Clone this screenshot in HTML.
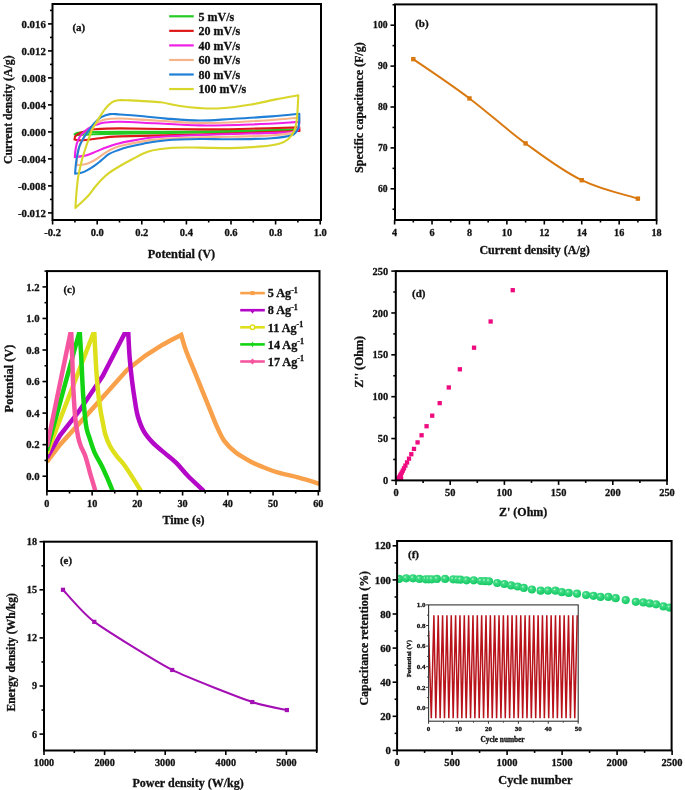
<!DOCTYPE html>
<html><head><meta charset="utf-8"><style>
html,body{margin:0;padding:0;background:#fff;}
svg{display:block;}
</style></head><body>
<svg width="685" height="790" viewBox="0 0 685 790" font-family="'Liberation Serif', 'Times New Roman', serif" fill="#111"><style>text{stroke:#111;stroke-width:0.3px;}</style>
<rect width="685" height="790" fill="#fff"/>
<g fill="none" stroke-width="2.1" stroke-linejoin="round" stroke-linecap="round">
<path d="M74.6,134.4 C75.17,134.13 75.43,133.2 78,132.8 C80.57,132.4 83,132.18 90,132 C97,131.82 101.67,131.78 120,131.7 C138.33,131.62 170.62,131.85 200,131.5 C229.38,131.15 280.25,129.92 296.3,129.6 L296.3,130.6 L296.3,130.6 C280.25,130.92 229.38,132 200,132.5 C170.62,133 138.33,133.28 120,133.6 C101.67,133.92 97,134.17 90,134.4 C83,134.63 80.57,135 78,135 C75.43,135 75.17,134.5 74.6,134.4" stroke="#22cc22"/>
<path d="M74.5,139.5 C74.67,138.92 74.58,137.08 75.5,136 C76.42,134.92 78.25,133.85 80,133 C81.75,132.15 83.62,131.52 86,130.9 C88.38,130.28 88.63,129.72 94.3,129.3 C99.97,128.88 102.38,128.38 120,128.4 C137.62,128.42 178.33,129.35 200,129.4 C221.67,129.45 233.45,129.03 250,128.7 C266.55,128.37 291.08,127.62 299.3,127.4 L299.5,131 L299.5,131 C291.25,131.3 266.58,132.22 250,132.8 C233.42,133.38 221.67,133.9 200,134.5 C178.33,135.1 136.67,135.78 120,136.4 C103.33,137.02 105,137.68 100,138.2 C95,138.72 93.33,139.13 90,139.5 C86.67,139.87 82.58,140.4 80,140.4 C77.42,140.4 75.42,139.65 74.5,139.5" stroke="#dd1818"/>
<path d="M74.8,157.1 C74.92,155.92 75.13,152.35 75.5,150 C75.87,147.65 76.25,145.25 77,143 C77.75,140.75 78.67,138.5 80,136.5 C81.33,134.5 83.17,132.58 85,131 C86.83,129.42 89.02,128.08 91,127 C92.98,125.92 94.57,125.25 96.9,124.5 C99.23,123.75 101.15,122.95 105,122.5 C108.85,122.05 111.67,121.67 120,121.8 C128.33,121.93 141.67,122.7 155,123.3 C168.33,123.9 184.17,125.2 200,125.4 C215.83,125.6 233.45,125.08 250,124.5 C266.55,123.92 291.08,122.33 299.3,121.9 L298.8,128 L298.8,128 C297.7,128.68 300.33,131.18 292.2,132.1 C284.07,133.02 265.37,133.02 250,133.5 C234.63,133.98 215.83,134.37 200,135 C184.17,135.63 167,136.23 155,137.3 C143,138.37 134.27,140.32 128,141.4 C121.73,142.48 121.07,142.77 117.4,143.8 C113.73,144.83 109.48,146.33 106,147.6 C102.52,148.87 99.67,150.13 96.5,151.4 C93.33,152.67 90.02,154.33 87,155.2 C83.98,156.07 80.43,156.28 78.4,156.6 C76.37,156.92 75.4,157.02 74.8,157.1" stroke="#ee1fe6"/>
<path d="M76.5,165.2 C76.63,163.83 76.88,159.87 77.3,157 C77.72,154.13 78.05,151.08 79,148 C79.95,144.92 81.33,141.5 83,138.5 C84.67,135.5 86.83,132.5 89,130 C91.17,127.5 93.37,125.25 96,123.5 C98.63,121.75 100.8,120.33 104.8,119.5 C108.8,118.67 111.63,118.33 120,118.5 C128.37,118.67 141.67,119.75 155,120.5 C168.33,121.25 185.83,122.75 200,123 C214.17,123.25 223.45,122.87 240,122 C256.55,121.13 289.42,118.5 299.3,117.8 L299,126 L299,126 C298,127.08 297.83,130.92 293,132.5 C288.17,134.08 280.5,134.78 270,135.5 C259.5,136.22 241.67,136.5 230,136.8 C218.33,137.1 212.5,136.83 200,137.3 C187.5,137.77 167,138.43 155,139.6 C143,140.77 134.58,142.97 128,144.3 C121.42,145.63 119.17,146.27 115.5,147.6 C111.83,148.93 109.17,150.4 106,152.3 C102.83,154.2 99.67,157.1 96.5,159 C93.33,160.9 90.33,162.67 87,163.7 C83.67,164.73 78.25,164.95 76.5,165.2" stroke="#f5b48a"/>
<path d="M75.1,173.7 C75.25,171.92 75.6,166.28 76,163 C76.4,159.72 76.92,156.83 77.5,154 C78.08,151.17 78.58,148.5 79.5,146 C80.42,143.5 81.57,141.47 83,139 C84.43,136.53 86.22,133.82 88.1,131.2 C89.98,128.58 92.1,125.63 94.3,123.3 C96.5,120.97 98.68,118.73 101.3,117.2 C103.92,115.67 106.88,114.55 110,114.1 C113.12,113.65 114.43,114.13 120,114.5 C125.57,114.87 135.62,115.62 143.4,116.3 C151.18,116.98 157.27,117.9 166.7,118.6 C176.13,119.3 189.3,120.43 200,120.5 C210.7,120.57 218.95,119.68 230.9,119 C242.85,118.32 260.3,117.28 271.7,116.4 C283.1,115.52 294.7,114.15 299.3,113.7 L299.3,121 L298.5,128 L298.5,128 C297.45,129.17 296.67,133.3 292.2,135 C287.73,136.7 281.92,137.48 271.7,138.2 C261.48,138.92 242.85,139.17 230.9,139.3 C218.95,139.43 210.7,138.85 200,139 C189.3,139.15 176.13,139.42 166.7,140.2 C157.27,140.98 149.85,142.55 143.4,143.7 C136.95,144.85 132.33,145.98 128,147.1 C123.67,148.22 120.6,149.22 117.4,150.4 C114.2,151.58 111.5,152.53 108.8,154.2 C106.1,155.87 103.57,158.5 101.2,160.4 C98.83,162.3 96.97,163.93 94.6,165.6 C92.23,167.27 89.22,169.2 87,170.4 C84.78,171.6 83.28,172.25 81.3,172.8 C79.32,173.35 76.13,173.55 75.1,173.7" stroke="#1f7fd6"/>
<path d="M75.4,207.9 C75.58,205.28 76.07,197.18 76.5,192.2 C76.93,187.22 77.43,181.95 78,178 C78.57,174.05 79.2,171.67 79.9,168.5 C80.6,165.33 81.33,162.17 82.2,159 C83.07,155.83 84.07,152.67 85.1,149.5 C86.13,146.33 87.25,143.25 88.4,140 C89.55,136.75 90.58,133.08 92,130 C93.42,126.92 94.77,124.95 96.9,121.5 C99.03,118.05 102.32,112.5 104.8,109.3 C107.28,106.1 109.6,103.82 111.8,102.3 C114,100.78 114.97,100.52 118,100.2 C121.03,99.88 125.77,100.25 130,100.4 C134.23,100.55 138.25,100.78 143.4,101.1 C148.55,101.42 155.07,101.52 160.9,102.3 C166.73,103.08 171.88,104.83 178.4,105.8 C184.92,106.77 192.95,107.68 200,108.1 C207.05,108.52 212.15,108.9 220.7,108.3 C229.25,107.7 242.12,105.98 251.3,104.5 C260.48,103.02 267.97,100.93 275.8,99.4 C283.63,97.87 294.55,95.98 298.3,95.3 L297.6,110 L296.5,122 L296.5,122 C296.12,123.52 295.6,128.22 294.2,131.1 C292.8,133.98 290.48,137.25 288.1,139.3 C285.72,141.35 284.33,142.22 279.9,143.4 C275.47,144.58 269.67,145.62 261.5,146.4 C253.33,147.18 241.15,147.9 230.9,148.1 C220.65,148.3 209.72,147.65 200,147.6 C190.28,147.55 181.07,147.18 172.6,147.8 C164.13,148.42 156.02,149.35 149.2,151.3 C142.38,153.25 137,156.8 131.7,159.5 C126.4,162.2 121.22,165.22 117.4,167.5 C113.58,169.78 111.5,171.13 108.8,173.2 C106.1,175.27 103.57,177.52 101.2,179.9 C98.83,182.28 96.65,184.98 94.6,187.5 C92.55,190.02 90.97,192.63 88.9,195 C86.83,197.37 84.45,199.55 82.2,201.7 C79.95,203.85 76.53,206.87 75.4,207.9" stroke="#d8d62a"/>
</g>
<rect x="52.5" y="4" width="268.5" height="216" fill="none" stroke="#000" stroke-width="2"/>
<line x1="52.5" y1="199.4" x2="50" y2="199.4" stroke="#000" stroke-width="1.6"/>
<line x1="52.5" y1="172.4" x2="50" y2="172.4" stroke="#000" stroke-width="1.6"/>
<line x1="52.5" y1="145.4" x2="50" y2="145.4" stroke="#000" stroke-width="1.6"/>
<line x1="52.5" y1="118.4" x2="50" y2="118.4" stroke="#000" stroke-width="1.6"/>
<line x1="52.5" y1="91.4" x2="50" y2="91.4" stroke="#000" stroke-width="1.6"/>
<line x1="52.5" y1="64.4" x2="50" y2="64.4" stroke="#000" stroke-width="1.6"/>
<line x1="52.5" y1="37.4" x2="50" y2="37.4" stroke="#000" stroke-width="1.6"/>
<line x1="52.5" y1="10.4" x2="50" y2="10.4" stroke="#000" stroke-width="1.6"/>
<line x1="52.5" y1="212.9" x2="48" y2="212.9" stroke="#000" stroke-width="1.6"/>
<line x1="52.5" y1="185.9" x2="48" y2="185.9" stroke="#000" stroke-width="1.6"/>
<line x1="52.5" y1="158.9" x2="48" y2="158.9" stroke="#000" stroke-width="1.6"/>
<line x1="52.5" y1="131.9" x2="48" y2="131.9" stroke="#000" stroke-width="1.6"/>
<line x1="52.5" y1="104.9" x2="48" y2="104.9" stroke="#000" stroke-width="1.6"/>
<line x1="52.5" y1="77.9" x2="48" y2="77.9" stroke="#000" stroke-width="1.6"/>
<line x1="52.5" y1="50.9" x2="48" y2="50.9" stroke="#000" stroke-width="1.6"/>
<line x1="52.5" y1="23.9" x2="48" y2="23.9" stroke="#000" stroke-width="1.6"/>
<text x="45.8" y="216.57" font-size="10.8" text-anchor="end" font-weight="bold">-0.012</text>
<text x="45.8" y="189.57" font-size="10.8" text-anchor="end" font-weight="bold">-0.008</text>
<text x="45.8" y="162.57" font-size="10.8" text-anchor="end" font-weight="bold">-0.004</text>
<text x="45.8" y="135.57" font-size="10.8" text-anchor="end" font-weight="bold">0.000</text>
<text x="45.8" y="108.57" font-size="10.8" text-anchor="end" font-weight="bold">0.004</text>
<text x="45.8" y="81.57" font-size="10.8" text-anchor="end" font-weight="bold">0.008</text>
<text x="45.8" y="54.57" font-size="10.8" text-anchor="end" font-weight="bold">0.012</text>
<text x="45.8" y="27.57" font-size="10.8" text-anchor="end" font-weight="bold">0.016</text>
<line x1="74.9" y1="220" x2="74.9" y2="222.5" stroke="#000" stroke-width="1.6"/>
<line x1="119.5" y1="220" x2="119.5" y2="222.5" stroke="#000" stroke-width="1.6"/>
<line x1="164.1" y1="220" x2="164.1" y2="222.5" stroke="#000" stroke-width="1.6"/>
<line x1="208.7" y1="220" x2="208.7" y2="222.5" stroke="#000" stroke-width="1.6"/>
<line x1="253.3" y1="220" x2="253.3" y2="222.5" stroke="#000" stroke-width="1.6"/>
<line x1="297.9" y1="220" x2="297.9" y2="222.5" stroke="#000" stroke-width="1.6"/>
<line x1="52.6" y1="220" x2="52.6" y2="224.5" stroke="#000" stroke-width="1.6"/>
<line x1="97.2" y1="220" x2="97.2" y2="224.5" stroke="#000" stroke-width="1.6"/>
<line x1="141.8" y1="220" x2="141.8" y2="224.5" stroke="#000" stroke-width="1.6"/>
<line x1="186.4" y1="220" x2="186.4" y2="224.5" stroke="#000" stroke-width="1.6"/>
<line x1="231" y1="220" x2="231" y2="224.5" stroke="#000" stroke-width="1.6"/>
<line x1="275.6" y1="220" x2="275.6" y2="224.5" stroke="#000" stroke-width="1.6"/>
<line x1="320.2" y1="220" x2="320.2" y2="224.5" stroke="#000" stroke-width="1.6"/>
<text x="52.6" y="236" font-size="10.5" text-anchor="middle" font-weight="bold">-0.2</text>
<text x="97.2" y="236" font-size="10.5" text-anchor="middle" font-weight="bold">0.0</text>
<text x="141.8" y="236" font-size="10.5" text-anchor="middle" font-weight="bold">0.2</text>
<text x="186.4" y="236" font-size="10.5" text-anchor="middle" font-weight="bold">0.4</text>
<text x="231" y="236" font-size="10.5" text-anchor="middle" font-weight="bold">0.6</text>
<text x="275.6" y="236" font-size="10.5" text-anchor="middle" font-weight="bold">0.8</text>
<text x="320.2" y="236" font-size="10.5" text-anchor="middle" font-weight="bold">1.0</text>
<text x="7.8" y="109.7" font-size="11.8" text-anchor="middle" font-weight="bold" transform="rotate(-90 7.8 109.7)" dy="4">Current density (A/g)</text>
<text x="181.5" y="257.6" font-size="12.3" text-anchor="middle" font-weight="bold">Potential (V)</text>
<text x="78.8" y="30.6" font-size="11" text-anchor="middle" font-weight="bold">(a)</text>
<line x1="169.2" y1="16.3" x2="193.7" y2="16.3" stroke="#22cc22" stroke-width="2.2"/>
<text x="198.5" y="20.5" font-size="12" text-anchor="start" font-weight="bold">5 mV/s</text>
<line x1="169.2" y1="30.85" x2="193.7" y2="30.85" stroke="#dd1818" stroke-width="2.2"/>
<text x="198.5" y="35.05" font-size="12" text-anchor="start" font-weight="bold">20 mV/s</text>
<line x1="169.2" y1="45.4" x2="193.7" y2="45.4" stroke="#ee1fe6" stroke-width="2.2"/>
<text x="198.5" y="49.6" font-size="12" text-anchor="start" font-weight="bold">40 mV/s</text>
<line x1="169.2" y1="59.95" x2="193.7" y2="59.95" stroke="#f5b48a" stroke-width="2.2"/>
<text x="198.5" y="64.15" font-size="12" text-anchor="start" font-weight="bold">60 mV/s</text>
<line x1="169.2" y1="74.5" x2="193.7" y2="74.5" stroke="#1f7fd6" stroke-width="2.2"/>
<text x="198.5" y="78.7" font-size="12" text-anchor="start" font-weight="bold">80 mV/s</text>
<line x1="169.2" y1="89.05" x2="193.7" y2="89.05" stroke="#d8d62a" stroke-width="2.2"/>
<text x="198.5" y="93.25" font-size="12" text-anchor="start" font-weight="bold">100 mV/s</text>
<path d="M413.31,59.15 C423.61,66.35 448.87,82.96 469.46,98.41 C490.04,113.86 505.01,128.4 525.6,143.4 C546.19,158.4 561.16,170.09 581.74,180.21 C602.33,190.33 627.59,195.24 637.89,198.62" fill="none" stroke="#d9780f" stroke-width="1.9"/>
<rect x="411.11" y="56.95" width="4.4" height="4.4" fill="#d9780f"/>
<rect x="467.26" y="96.21" width="4.4" height="4.4" fill="#d9780f"/>
<rect x="523.4" y="141.2" width="4.4" height="4.4" fill="#d9780f"/>
<rect x="579.54" y="178.01" width="4.4" height="4.4" fill="#d9780f"/>
<rect x="635.69" y="196.42" width="4.4" height="4.4" fill="#d9780f"/>
<rect x="395" y="4.4" width="261.5" height="215.6" fill="none" stroke="#000" stroke-width="2"/>
<line x1="395" y1="209.25" x2="392.5" y2="209.25" stroke="#000" stroke-width="1.6"/>
<line x1="395" y1="168.35" x2="392.5" y2="168.35" stroke="#000" stroke-width="1.6"/>
<line x1="395" y1="127.45" x2="392.5" y2="127.45" stroke="#000" stroke-width="1.6"/>
<line x1="395" y1="86.55" x2="392.5" y2="86.55" stroke="#000" stroke-width="1.6"/>
<line x1="395" y1="45.65" x2="392.5" y2="45.65" stroke="#000" stroke-width="1.6"/>
<line x1="395" y1="4.75" x2="392.5" y2="4.75" stroke="#000" stroke-width="1.6"/>
<line x1="395" y1="188.8" x2="390.5" y2="188.8" stroke="#000" stroke-width="1.6"/>
<line x1="395" y1="147.9" x2="390.5" y2="147.9" stroke="#000" stroke-width="1.6"/>
<line x1="395" y1="107" x2="390.5" y2="107" stroke="#000" stroke-width="1.6"/>
<line x1="395" y1="66.1" x2="390.5" y2="66.1" stroke="#000" stroke-width="1.6"/>
<line x1="395" y1="25.2" x2="390.5" y2="25.2" stroke="#000" stroke-width="1.6"/>
<text x="387.5" y="192.06" font-size="9.6" text-anchor="end" font-weight="bold">60</text>
<text x="387.5" y="151.16" font-size="9.6" text-anchor="end" font-weight="bold">70</text>
<text x="387.5" y="110.26" font-size="9.6" text-anchor="end" font-weight="bold">80</text>
<text x="387.5" y="69.36" font-size="9.6" text-anchor="end" font-weight="bold">90</text>
<text x="387.5" y="28.46" font-size="9.6" text-anchor="end" font-weight="bold">100</text>
<line x1="413.31" y1="220" x2="413.31" y2="222.5" stroke="#000" stroke-width="1.6"/>
<line x1="450.74" y1="220" x2="450.74" y2="222.5" stroke="#000" stroke-width="1.6"/>
<line x1="488.17" y1="220" x2="488.17" y2="222.5" stroke="#000" stroke-width="1.6"/>
<line x1="525.6" y1="220" x2="525.6" y2="222.5" stroke="#000" stroke-width="1.6"/>
<line x1="563.03" y1="220" x2="563.03" y2="222.5" stroke="#000" stroke-width="1.6"/>
<line x1="600.46" y1="220" x2="600.46" y2="222.5" stroke="#000" stroke-width="1.6"/>
<line x1="637.89" y1="220" x2="637.89" y2="222.5" stroke="#000" stroke-width="1.6"/>
<line x1="394.6" y1="220" x2="394.6" y2="224.5" stroke="#000" stroke-width="1.6"/>
<line x1="432.03" y1="220" x2="432.03" y2="224.5" stroke="#000" stroke-width="1.6"/>
<line x1="469.46" y1="220" x2="469.46" y2="224.5" stroke="#000" stroke-width="1.6"/>
<line x1="506.89" y1="220" x2="506.89" y2="224.5" stroke="#000" stroke-width="1.6"/>
<line x1="544.31" y1="220" x2="544.31" y2="224.5" stroke="#000" stroke-width="1.6"/>
<line x1="581.74" y1="220" x2="581.74" y2="224.5" stroke="#000" stroke-width="1.6"/>
<line x1="619.17" y1="220" x2="619.17" y2="224.5" stroke="#000" stroke-width="1.6"/>
<line x1="656.6" y1="220" x2="656.6" y2="224.5" stroke="#000" stroke-width="1.6"/>
<text x="394.6" y="236" font-size="10.2" text-anchor="middle" font-weight="bold">4</text>
<text x="432.03" y="236" font-size="10.2" text-anchor="middle" font-weight="bold">6</text>
<text x="469.46" y="236" font-size="10.2" text-anchor="middle" font-weight="bold">8</text>
<text x="506.89" y="236" font-size="10.2" text-anchor="middle" font-weight="bold">10</text>
<text x="544.31" y="236" font-size="10.2" text-anchor="middle" font-weight="bold">12</text>
<text x="581.74" y="236" font-size="10.2" text-anchor="middle" font-weight="bold">14</text>
<text x="619.17" y="236" font-size="10.2" text-anchor="middle" font-weight="bold">16</text>
<text x="656.6" y="236" font-size="10.2" text-anchor="middle" font-weight="bold">18</text>
<text x="359.3" y="107.6" font-size="12" text-anchor="middle" font-weight="bold" transform="rotate(-90 359.3 107.6)" dy="4">Specific capacitance (F/g)</text>
<text x="534.6" y="254" font-size="12" text-anchor="middle" font-weight="bold">Current density (A/g)</text>
<text x="421.9" y="27.3" font-size="11" text-anchor="middle" font-weight="bold">(b)</text>
<svg x="0" y="0" width="685" height="790" overflow="hidden"><defs><clipPath id="cc"><rect x="47" y="271" width="272.5" height="220.0"/></clipPath></defs>
<g fill="none" stroke-width="4.5" stroke-linejoin="miter" stroke-miterlimit="3" clip-path="url(#cc)">
<path d="M46.9,462 L60.02,444.65 L88.97,412.63 L126.96,370.03 L133.3,364.99 L145.51,355.52 L162.25,344.95 L170.84,340.22 L181.24,335.01 L181.24,335.01 C182,337.51 183.73,344.35 185.77,350 C187.8,355.65 190.89,362.62 193.46,368.93 C196.02,375.24 198.58,381.55 201.15,387.86 C203.71,394.17 206.27,400.48 208.84,406.79 C211.4,413.1 213.96,420.04 216.53,425.72 C219.09,431.4 221.05,436.45 224.21,440.86 C227.38,445.28 231.08,448.75 235.52,452.22 C239.97,455.69 246.61,459.32 250.9,461.69 C255.2,464.05 256.86,464.63 261.31,466.42 C265.75,468.21 271.33,470.55 277.59,472.41 C283.85,474.28 291.61,475.65 298.85,477.62 C306.09,479.59 317.32,483.14 321.01,484.25" stroke="#f9a04a"/>
<path d="M46.9,457.74 L60.02,435.34 L78.83,411.52 L102.67,376.03 L124.25,334.22 L128.32,334.22 L128.32,334.22 C128.55,338.17 129.07,350.26 129.68,357.89 C130.28,365.51 131.03,372.61 131.94,379.97 C132.84,387.33 134.12,396.01 135.11,402.06 C136.09,408.1 136.39,411.42 137.82,416.25 C139.25,421.09 141.21,426.69 143.7,431.08 C146.19,435.47 149.28,438.97 152.75,442.6 C156.21,446.23 160.59,449.46 164.51,452.85 C168.43,456.24 172.35,459.08 176.27,462.95 C180.19,466.81 183.66,471.55 188.03,476.04 C192.4,480.54 199.71,487.01 202.5,489.92 C205.29,492.84 204.39,492.95 204.76,493.55" stroke="#b407c8"/>
<path d="M46.9,453.48 L93.04,334.22 L94.4,334.22 L94.4,334.22 C94.58,337.91 95.15,349.47 95.53,356.31 C95.9,363.15 96.2,369.06 96.66,375.24 C97.11,381.42 97.58,387.44 98.24,393.38 C98.9,399.32 99.88,406.29 100.59,410.89 C101.31,415.49 101.76,417.1 102.54,420.99 C103.31,424.88 103.97,429.98 105.25,434.24 C106.53,438.5 108.3,442.89 110.23,446.54 C112.15,450.2 114.6,453.3 116.79,456.17 C118.97,459.03 120.97,460.58 123.34,463.74 C125.72,466.89 128.17,470.65 131.03,475.1 C133.9,479.54 138.72,487.32 140.53,490.4 C142.34,493.47 141.66,493.03 141.89,493.55" stroke="#dfe01c"/>
<path d="M46.9,450.49 L78.79,334.22 L79.92,334.22 L79.92,334.22 C80.15,338.17 80.86,350 81.28,357.89 C81.69,365.77 82.07,374.98 82.41,381.55 C82.75,388.12 82.86,391.28 83.31,397.32 C83.77,403.37 84.56,412.57 85.12,417.83 C85.69,423.09 85.91,425.35 86.71,428.88 C87.5,432.4 88.51,434.92 89.87,438.97 C91.23,443.02 92.74,448.41 94.85,453.17 C96.96,457.93 99.67,461.5 102.54,467.52 C105.4,473.54 110.3,484.96 112.04,489.29 C113.77,493.63 112.79,492.84 112.94,493.55" stroke="#12d412"/>
<path d="M46.9,446.86 L70.2,334.22 L71.33,334.22 L71.33,334.22 C71.48,338.04 71.89,347.9 72.23,357.1 C72.57,366.3 72.83,379.05 73.36,389.44 C73.89,399.82 74.61,411.52 75.4,419.41 C76.19,427.3 77.21,432.29 78.11,436.76 C79.02,441.23 79.62,442.99 80.83,446.23 C82.03,449.46 83.84,451.83 85.35,456.17 C86.86,460.5 88.29,466.73 89.87,472.26 C91.45,477.78 93.87,485.74 94.85,489.29 C95.83,492.84 95.6,492.84 95.75,493.55" stroke="#f5569f"/>
</g></svg>
<rect x="47" y="271.1" width="272.5" height="219.9" fill="none" stroke="#000" stroke-width="2"/>
<line x1="47" y1="460.42" x2="44.5" y2="460.42" stroke="#000" stroke-width="1.6"/>
<line x1="47" y1="428.88" x2="44.5" y2="428.88" stroke="#000" stroke-width="1.6"/>
<line x1="47" y1="397.32" x2="44.5" y2="397.32" stroke="#000" stroke-width="1.6"/>
<line x1="47" y1="365.77" x2="44.5" y2="365.77" stroke="#000" stroke-width="1.6"/>
<line x1="47" y1="334.22" x2="44.5" y2="334.22" stroke="#000" stroke-width="1.6"/>
<line x1="47" y1="302.67" x2="44.5" y2="302.67" stroke="#000" stroke-width="1.6"/>
<line x1="47" y1="271.12" x2="44.5" y2="271.12" stroke="#000" stroke-width="1.6"/>
<line x1="47" y1="476.2" x2="42.5" y2="476.2" stroke="#000" stroke-width="1.6"/>
<line x1="47" y1="444.65" x2="42.5" y2="444.65" stroke="#000" stroke-width="1.6"/>
<line x1="47" y1="413.1" x2="42.5" y2="413.1" stroke="#000" stroke-width="1.6"/>
<line x1="47" y1="381.55" x2="42.5" y2="381.55" stroke="#000" stroke-width="1.6"/>
<line x1="47" y1="350" x2="42.5" y2="350" stroke="#000" stroke-width="1.6"/>
<line x1="47" y1="318.45" x2="42.5" y2="318.45" stroke="#000" stroke-width="1.6"/>
<line x1="47" y1="286.9" x2="42.5" y2="286.9" stroke="#000" stroke-width="1.6"/>
<text x="39.6" y="479.84" font-size="10.7" text-anchor="end" font-weight="bold">0.0</text>
<text x="39.6" y="448.29" font-size="10.7" text-anchor="end" font-weight="bold">0.2</text>
<text x="39.6" y="416.74" font-size="10.7" text-anchor="end" font-weight="bold">0.4</text>
<text x="39.6" y="385.19" font-size="10.7" text-anchor="end" font-weight="bold">0.6</text>
<text x="39.6" y="353.64" font-size="10.7" text-anchor="end" font-weight="bold">0.8</text>
<text x="39.6" y="322.09" font-size="10.7" text-anchor="end" font-weight="bold">1.0</text>
<text x="39.6" y="290.54" font-size="10.7" text-anchor="end" font-weight="bold">1.2</text>
<line x1="69.52" y1="491" x2="69.52" y2="493.5" stroke="#000" stroke-width="1.6"/>
<line x1="114.75" y1="491" x2="114.75" y2="493.5" stroke="#000" stroke-width="1.6"/>
<line x1="159.98" y1="491" x2="159.98" y2="493.5" stroke="#000" stroke-width="1.6"/>
<line x1="205.22" y1="491" x2="205.22" y2="493.5" stroke="#000" stroke-width="1.6"/>
<line x1="250.45" y1="491" x2="250.45" y2="493.5" stroke="#000" stroke-width="1.6"/>
<line x1="295.68" y1="491" x2="295.68" y2="493.5" stroke="#000" stroke-width="1.6"/>
<line x1="46.9" y1="491" x2="46.9" y2="495.5" stroke="#000" stroke-width="1.6"/>
<line x1="92.13" y1="491" x2="92.13" y2="495.5" stroke="#000" stroke-width="1.6"/>
<line x1="137.37" y1="491" x2="137.37" y2="495.5" stroke="#000" stroke-width="1.6"/>
<line x1="182.6" y1="491" x2="182.6" y2="495.5" stroke="#000" stroke-width="1.6"/>
<line x1="227.83" y1="491" x2="227.83" y2="495.5" stroke="#000" stroke-width="1.6"/>
<line x1="273.07" y1="491" x2="273.07" y2="495.5" stroke="#000" stroke-width="1.6"/>
<line x1="318.3" y1="491" x2="318.3" y2="495.5" stroke="#000" stroke-width="1.6"/>
<text x="46.9" y="507" font-size="10.2" text-anchor="middle" font-weight="bold">0</text>
<text x="92.13" y="507" font-size="10.2" text-anchor="middle" font-weight="bold">10</text>
<text x="137.37" y="507" font-size="10.2" text-anchor="middle" font-weight="bold">20</text>
<text x="182.6" y="507" font-size="10.2" text-anchor="middle" font-weight="bold">30</text>
<text x="227.83" y="507" font-size="10.2" text-anchor="middle" font-weight="bold">40</text>
<text x="273.07" y="507" font-size="10.2" text-anchor="middle" font-weight="bold">50</text>
<text x="318.3" y="507" font-size="10.2" text-anchor="middle" font-weight="bold">60</text>
<text x="9.4" y="378.5" font-size="12.4" text-anchor="middle" font-weight="bold" transform="rotate(-90 9.4 378.5)" dy="4">Potential (V)</text>
<text x="183.5" y="524" font-size="12" text-anchor="middle" font-weight="bold">Time (s)</text>
<text x="69.4" y="292.7" font-size="10.8" text-anchor="middle" font-weight="bold">(c)</text>
<line x1="240.2" y1="293.1" x2="264.8" y2="293.1" stroke="#f9a04a" stroke-width="2.6"/>
<rect x="250.5" y="291.1" width="4" height="4" fill="#f9a04a"/>
<text x="267.8" y="297.3" font-size="12.2" font-weight="bold">5 Ag<tspan font-size="8" dy="-4.6">-1</tspan></text>
<line x1="240.2" y1="310.2" x2="264.8" y2="310.2" stroke="#b407c8" stroke-width="2.6"/>
<path d="M249.5,309.2 L255.5,309.2 L252.5,313.7 Z" fill="#b407c8"/>
<text x="267.8" y="314.4" font-size="12.2" font-weight="bold">8 Ag<tspan font-size="8" dy="-4.6">-1</tspan></text>
<line x1="240.2" y1="327.3" x2="264.8" y2="327.3" stroke="#dfe01c" stroke-width="2.6"/>
<circle cx="252.5" cy="327.3" r="2.2" fill="#fff" stroke="#dfe01c" stroke-width="1.5"/>
<text x="267.8" y="331.5" font-size="12.2" font-weight="bold">11 Ag<tspan font-size="8" dy="-4.6">-1</tspan></text>
<line x1="240.2" y1="344.4" x2="264.8" y2="344.4" stroke="#12d412" stroke-width="2.6"/>
<path d="M252.5,341.4 l1,2.2 l-2,0 Z M252.5,347.4 l1,-2.2 l-2,0 Z" fill="#12d412"/>
<text x="267.8" y="348.6" font-size="12.2" font-weight="bold">14 Ag<tspan font-size="8" dy="-4.6">-1</tspan></text>
<line x1="240.2" y1="361.5" x2="264.8" y2="361.5" stroke="#f5569f" stroke-width="2.6"/>
<path d="M252.5,358.5 L255.5,361.5 L252.5,364.5 L249.5,361.5 Z" fill="#f5569f"/>
<text x="267.8" y="365.7" font-size="12.2" font-weight="bold">17 Ag<tspan font-size="8" dy="-4.6">-1</tspan></text>
<defs><clipPath id="cd"><rect x="395.8" y="271.1" width="271.2" height="209.3"/></clipPath></defs>
<g fill="#ee0b80" clip-path="url(#cd)">
<rect x="510.6" y="288.04" width="4.3" height="4.3"/>
<rect x="488.48" y="319.35" width="4.3" height="4.3"/>
<rect x="471.9" y="345.55" width="4.3" height="4.3"/>
<rect x="457.7" y="367.15" width="4.3" height="4.3"/>
<rect x="446.64" y="385.32" width="4.3" height="4.3"/>
<rect x="437.54" y="400.98" width="4.3" height="4.3"/>
<rect x="430.06" y="413.53" width="4.3" height="4.3"/>
<rect x="424.42" y="424.08" width="4.3" height="4.3"/>
<rect x="419.43" y="433.12" width="4.3" height="4.3"/>
<rect x="415.42" y="440.24" width="4.3" height="4.3"/>
<rect x="411.84" y="446.77" width="4.3" height="4.3"/>
<rect x="409.15" y="452.07" width="4.3" height="4.3"/>
<rect x="406.85" y="456.5" width="4.3" height="4.3"/>
<rect x="404.9" y="460.26" width="4.3" height="4.3"/>
<rect x="403.24" y="463.46" width="4.3" height="4.3"/>
<rect x="401.83" y="466.18" width="4.3" height="4.3"/>
<rect x="400.64" y="468.5" width="4.3" height="4.3"/>
<rect x="399.62" y="470.46" width="4.3" height="4.3"/>
<rect x="398.75" y="472.13" width="4.3" height="4.3"/>
<rect x="398.02" y="473.55" width="4.3" height="4.3"/>
<rect x="397.39" y="474.76" width="4.3" height="4.3"/>
<rect x="396.86" y="475.78" width="4.3" height="4.3"/>
<rect x="396.41" y="476.66" width="4.3" height="4.3"/>
<rect x="395.91" y="476.91" width="4.3" height="4.3"/>
<rect x="396.45" y="477.08" width="4.3" height="4.3"/>
<rect x="397.1" y="476.91" width="4.3" height="4.3"/>
<rect x="397.75" y="476.66" width="4.3" height="4.3"/>
<rect x="398.4" y="476.41" width="4.3" height="4.3"/>
<rect x="398.94" y="476.16" width="4.3" height="4.3"/>
</g>
<rect x="395.8" y="271.1" width="271.2" height="209.3" fill="none" stroke="#000" stroke-width="2"/>
<line x1="395.8" y1="459.47" x2="393.3" y2="459.47" stroke="#000" stroke-width="1.6"/>
<line x1="395.8" y1="417.61" x2="393.3" y2="417.61" stroke="#000" stroke-width="1.6"/>
<line x1="395.8" y1="375.75" x2="393.3" y2="375.75" stroke="#000" stroke-width="1.6"/>
<line x1="395.8" y1="333.89" x2="393.3" y2="333.89" stroke="#000" stroke-width="1.6"/>
<line x1="395.8" y1="292.03" x2="393.3" y2="292.03" stroke="#000" stroke-width="1.6"/>
<line x1="395.8" y1="480.4" x2="391.3" y2="480.4" stroke="#000" stroke-width="1.6"/>
<line x1="395.8" y1="438.54" x2="391.3" y2="438.54" stroke="#000" stroke-width="1.6"/>
<line x1="395.8" y1="396.68" x2="391.3" y2="396.68" stroke="#000" stroke-width="1.6"/>
<line x1="395.8" y1="354.82" x2="391.3" y2="354.82" stroke="#000" stroke-width="1.6"/>
<line x1="395.8" y1="312.96" x2="391.3" y2="312.96" stroke="#000" stroke-width="1.6"/>
<line x1="395.8" y1="271.1" x2="391.3" y2="271.1" stroke="#000" stroke-width="1.6"/>
<text x="388.2" y="483.94" font-size="10.4" text-anchor="end" font-weight="bold">0</text>
<text x="388.2" y="442.08" font-size="10.4" text-anchor="end" font-weight="bold">50</text>
<text x="388.2" y="400.22" font-size="10.4" text-anchor="end" font-weight="bold">100</text>
<text x="388.2" y="358.36" font-size="10.4" text-anchor="end" font-weight="bold">150</text>
<text x="388.2" y="316.5" font-size="10.4" text-anchor="end" font-weight="bold">200</text>
<text x="388.2" y="274.64" font-size="10.4" text-anchor="end" font-weight="bold">250</text>
<line x1="423.1" y1="480.4" x2="423.1" y2="482.9" stroke="#000" stroke-width="1.6"/>
<line x1="477.3" y1="480.4" x2="477.3" y2="482.9" stroke="#000" stroke-width="1.6"/>
<line x1="531.5" y1="480.4" x2="531.5" y2="482.9" stroke="#000" stroke-width="1.6"/>
<line x1="585.7" y1="480.4" x2="585.7" y2="482.9" stroke="#000" stroke-width="1.6"/>
<line x1="639.9" y1="480.4" x2="639.9" y2="482.9" stroke="#000" stroke-width="1.6"/>
<line x1="396" y1="480.4" x2="396" y2="484.9" stroke="#000" stroke-width="1.6"/>
<line x1="450.2" y1="480.4" x2="450.2" y2="484.9" stroke="#000" stroke-width="1.6"/>
<line x1="504.4" y1="480.4" x2="504.4" y2="484.9" stroke="#000" stroke-width="1.6"/>
<line x1="558.6" y1="480.4" x2="558.6" y2="484.9" stroke="#000" stroke-width="1.6"/>
<line x1="612.8" y1="480.4" x2="612.8" y2="484.9" stroke="#000" stroke-width="1.6"/>
<line x1="667" y1="480.4" x2="667" y2="484.9" stroke="#000" stroke-width="1.6"/>
<text x="396" y="496" font-size="10.4" text-anchor="middle" font-weight="bold">0</text>
<text x="450.2" y="496" font-size="10.4" text-anchor="middle" font-weight="bold">50</text>
<text x="504.4" y="496" font-size="10.4" text-anchor="middle" font-weight="bold">100</text>
<text x="558.6" y="496" font-size="10.4" text-anchor="middle" font-weight="bold">150</text>
<text x="612.8" y="496" font-size="10.4" text-anchor="middle" font-weight="bold">200</text>
<text x="667" y="496" font-size="10.4" text-anchor="middle" font-weight="bold">250</text>
<text x="359" y="361.8" font-size="12" text-anchor="middle" font-weight="bold" transform="rotate(-90 359 361.8)" dy="4">Z'' (Ohm)</text>
<text x="523.2" y="516.2" font-size="12" text-anchor="middle" font-weight="bold">Z' (Ohm)</text>
<text x="418.7" y="297" font-size="11" text-anchor="middle" font-weight="bold">(d)</text>
<path d="M62.97,589.8 C66.1,593.01 83.37,613.85 94.3,621.87 C105.22,629.88 156.44,661.95 172.23,669.97 C188.02,677.98 240.76,698.02 252.22,702.03 C263.69,706.04 283.42,709.25 286.88,710.05" fill="none" stroke="#a40fb5" stroke-width="2.0"/>
<rect x="60.87" y="587.7" width="4.2" height="4.2" fill="#a40fb5"/>
<rect x="92.2" y="619.77" width="4.2" height="4.2" fill="#a40fb5"/>
<rect x="170.13" y="667.87" width="4.2" height="4.2" fill="#a40fb5"/>
<rect x="250.12" y="699.93" width="4.2" height="4.2" fill="#a40fb5"/>
<rect x="284.78" y="707.95" width="4.2" height="4.2" fill="#a40fb5"/>
<rect x="44" y="541.7" width="272.8" height="208.8" fill="none" stroke="#000" stroke-width="2"/>
<line x1="44" y1="710.05" x2="41.5" y2="710.05" stroke="#000" stroke-width="1.6"/>
<line x1="44" y1="661.95" x2="41.5" y2="661.95" stroke="#000" stroke-width="1.6"/>
<line x1="44" y1="613.85" x2="41.5" y2="613.85" stroke="#000" stroke-width="1.6"/>
<line x1="44" y1="565.75" x2="41.5" y2="565.75" stroke="#000" stroke-width="1.6"/>
<line x1="44" y1="734.1" x2="39.5" y2="734.1" stroke="#000" stroke-width="1.6"/>
<line x1="44" y1="686" x2="39.5" y2="686" stroke="#000" stroke-width="1.6"/>
<line x1="44" y1="637.9" x2="39.5" y2="637.9" stroke="#000" stroke-width="1.6"/>
<line x1="44" y1="589.8" x2="39.5" y2="589.8" stroke="#000" stroke-width="1.6"/>
<line x1="44" y1="541.7" x2="39.5" y2="541.7" stroke="#000" stroke-width="1.6"/>
<text x="37" y="737.57" font-size="10.2" text-anchor="end" font-weight="bold">6</text>
<text x="37" y="689.47" font-size="10.2" text-anchor="end" font-weight="bold">9</text>
<text x="37" y="641.37" font-size="10.2" text-anchor="end" font-weight="bold">12</text>
<text x="37" y="593.27" font-size="10.2" text-anchor="end" font-weight="bold">15</text>
<text x="37" y="545.17" font-size="10.2" text-anchor="end" font-weight="bold">18</text>
<line x1="74.3" y1="750.5" x2="74.3" y2="753" stroke="#000" stroke-width="1.6"/>
<line x1="134.9" y1="750.5" x2="134.9" y2="753" stroke="#000" stroke-width="1.6"/>
<line x1="195.5" y1="750.5" x2="195.5" y2="753" stroke="#000" stroke-width="1.6"/>
<line x1="256.1" y1="750.5" x2="256.1" y2="753" stroke="#000" stroke-width="1.6"/>
<line x1="316.7" y1="750.5" x2="316.7" y2="753" stroke="#000" stroke-width="1.6"/>
<line x1="44" y1="750.5" x2="44" y2="755" stroke="#000" stroke-width="1.6"/>
<line x1="104.6" y1="750.5" x2="104.6" y2="755" stroke="#000" stroke-width="1.6"/>
<line x1="165.2" y1="750.5" x2="165.2" y2="755" stroke="#000" stroke-width="1.6"/>
<line x1="225.8" y1="750.5" x2="225.8" y2="755" stroke="#000" stroke-width="1.6"/>
<line x1="286.4" y1="750.5" x2="286.4" y2="755" stroke="#000" stroke-width="1.6"/>
<text x="44" y="766" font-size="10.2" text-anchor="middle" font-weight="bold">1000</text>
<text x="104.6" y="766" font-size="10.2" text-anchor="middle" font-weight="bold">2000</text>
<text x="165.2" y="766" font-size="10.2" text-anchor="middle" font-weight="bold">3000</text>
<text x="225.8" y="766" font-size="10.2" text-anchor="middle" font-weight="bold">4000</text>
<text x="286.4" y="766" font-size="10.2" text-anchor="middle" font-weight="bold">5000</text>
<text x="10.6" y="652.3" font-size="11.6" text-anchor="middle" font-weight="bold" transform="rotate(-90 10.6 652.3)" dy="4">Energy density (Wh/kg)</text>
<text x="188.1" y="787" font-size="12" text-anchor="middle" font-weight="bold">Power density (W/kg)</text>
<text x="66" y="563.7" font-size="10.8" text-anchor="middle" font-weight="bold">(e)</text>
<defs><radialGradient id="gb" cx="0.38" cy="0.35" r="0.65"><stop offset="0" stop-color="#c8f5d8"/><stop offset="0.25" stop-color="#3fdc84"/><stop offset="1" stop-color="#14c864"/></radialGradient><clipPath id="cf"><rect x="397.1" y="541" width="274.5" height="209.4"/></clipPath></defs>
<g clip-path="url(#cf)">
<circle cx="399.1" cy="578.9" r="4.1" fill="url(#gb)"/>
<circle cx="406.2" cy="578.3" r="4.1" fill="url(#gb)"/>
<circle cx="413" cy="578.3" r="4.1" fill="url(#gb)"/>
<circle cx="419.5" cy="578.9" r="4.1" fill="url(#gb)"/>
<circle cx="425.7" cy="579.3" r="4.1" fill="url(#gb)"/>
<circle cx="428.7" cy="579.3" r="4.1" fill="url(#gb)"/>
<circle cx="431.8" cy="579.3" r="4.1" fill="url(#gb)"/>
<circle cx="436.9" cy="578.9" r="4.1" fill="url(#gb)"/>
<circle cx="445.1" cy="578.9" r="4.1" fill="url(#gb)"/>
<circle cx="453.2" cy="579.3" r="4.1" fill="url(#gb)"/>
<circle cx="457" cy="579.5" r="4.1" fill="url(#gb)"/>
<circle cx="460.4" cy="579.7" r="4.1" fill="url(#gb)"/>
<circle cx="466.5" cy="580.3" r="4.1" fill="url(#gb)"/>
<circle cx="473.7" cy="580.3" r="4.1" fill="url(#gb)"/>
<circle cx="480.8" cy="581" r="4.1" fill="url(#gb)"/>
<circle cx="485" cy="581.2" r="4.1" fill="url(#gb)"/>
<circle cx="489" cy="581.3" r="4.1" fill="url(#gb)"/>
<circle cx="497.2" cy="583" r="4.1" fill="url(#gb)"/>
<circle cx="504.3" cy="584" r="4.1" fill="url(#gb)"/>
<circle cx="511.1" cy="585.4" r="4.1" fill="url(#gb)"/>
<circle cx="517.6" cy="586.5" r="4.1" fill="url(#gb)"/>
<circle cx="523.8" cy="587.9" r="4.1" fill="url(#gb)"/>
<circle cx="531.9" cy="589.5" r="4.1" fill="url(#gb)"/>
<circle cx="540.6" cy="590.7" r="4.1" fill="url(#gb)"/>
<circle cx="548" cy="590.7" r="4.1" fill="url(#gb)"/>
<circle cx="555.4" cy="590.7" r="4.1" fill="url(#gb)"/>
<circle cx="561.8" cy="592.2" r="4.1" fill="url(#gb)"/>
<circle cx="568.7" cy="592.9" r="4.1" fill="url(#gb)"/>
<circle cx="577" cy="593.7" r="4.1" fill="url(#gb)"/>
<circle cx="586.1" cy="595" r="4.1" fill="url(#gb)"/>
<circle cx="593.5" cy="595.8" r="4.1" fill="url(#gb)"/>
<circle cx="600.5" cy="596.9" r="4.1" fill="url(#gb)"/>
<circle cx="608.3" cy="596.9" r="4.1" fill="url(#gb)"/>
<circle cx="615.7" cy="598.2" r="4.1" fill="url(#gb)"/>
<circle cx="625.7" cy="600.1" r="4.1" fill="url(#gb)"/>
<circle cx="635.8" cy="601.8" r="4.1" fill="url(#gb)"/>
<circle cx="643.3" cy="602.4" r="4.1" fill="url(#gb)"/>
<circle cx="649.6" cy="603.4" r="4.1" fill="url(#gb)"/>
<circle cx="656" cy="604.3" r="4.1" fill="url(#gb)"/>
<circle cx="663.4" cy="606.4" r="4.1" fill="url(#gb)"/>
<circle cx="669.7" cy="607.7" r="4.1" fill="url(#gb)"/>
</g>
<svg x="0" y="0" width="685" height="790" overflow="hidden"><defs><clipPath id="ci"><rect x="428.6" y="604.9" width="149.6" height="116.3"/></clipPath></defs>
<path d="M428.6,630.65 L431.3,718.2 L433.9,615.2 L435.8,718.2 L438.24,615.2 L440.14,718.2 L442.58,615.2 L444.48,718.2 L446.93,615.2 L448.83,718.2 L451.27,615.2 L453.17,718.2 L455.61,615.2 L457.51,718.2 L459.95,615.2 L461.85,718.2 L464.3,615.2 L466.2,718.2 L468.64,615.2 L470.54,718.2 L472.98,615.2 L474.88,718.2 L477.32,615.2 L479.22,718.2 L481.67,615.2 L483.57,718.2 L486.01,615.2 L487.91,718.2 L490.35,615.2 L492.25,718.2 L494.69,615.2 L496.59,718.2 L499.04,615.2 L500.94,718.2 L503.38,615.2 L505.28,718.2 L507.72,615.2 L509.62,718.2 L512.06,615.2 L513.96,718.2 L516.41,615.2 L518.31,718.2 L520.75,615.2 L522.65,718.2 L525.09,615.2 L526.99,718.2 L529.43,615.2 L531.33,718.2 L533.78,615.2 L535.68,718.2 L538.12,615.2 L540.02,718.2 L542.46,615.2 L544.36,718.2 L546.8,615.2 L548.7,718.2 L551.15,615.2 L553.05,718.2 L555.49,615.2 L557.39,718.2 L559.83,615.2 L561.73,718.2 L564.17,615.2 L566.07,718.2 L568.52,615.2 L570.42,718.2 L572.86,615.2 L574.76,718.2 L577.2,615.2" fill="none" stroke="#b8121a" stroke-width="1.5" stroke-linejoin="miter" clip-path="url(#ci)"/>
</svg>
<rect x="428.6" y="604.9" width="149.6" height="116.3" fill="none" stroke="#333" stroke-width="1.1"/>
<line x1="428.6" y1="697.6" x2="427.1" y2="697.6" stroke="#333" stroke-width="1"/>
<line x1="428.6" y1="677" x2="427.1" y2="677" stroke="#333" stroke-width="1"/>
<line x1="428.6" y1="656.4" x2="427.1" y2="656.4" stroke="#333" stroke-width="1"/>
<line x1="428.6" y1="635.8" x2="427.1" y2="635.8" stroke="#333" stroke-width="1"/>
<line x1="428.6" y1="615.2" x2="427.1" y2="615.2" stroke="#333" stroke-width="1"/>
<line x1="428.6" y1="707.9" x2="426.1" y2="707.9" stroke="#333" stroke-width="1"/>
<line x1="428.6" y1="687.3" x2="426.1" y2="687.3" stroke="#333" stroke-width="1"/>
<line x1="428.6" y1="666.7" x2="426.1" y2="666.7" stroke="#333" stroke-width="1"/>
<line x1="428.6" y1="646.1" x2="426.1" y2="646.1" stroke="#333" stroke-width="1"/>
<line x1="428.6" y1="625.5" x2="426.1" y2="625.5" stroke="#333" stroke-width="1"/>
<line x1="428.6" y1="604.9" x2="426.1" y2="604.9" stroke="#333" stroke-width="1"/>
<text x="425.5" y="710.28" font-size="7" text-anchor="end" font-weight="bold">0.0</text>
<text x="425.5" y="689.68" font-size="7" text-anchor="end" font-weight="bold">0.2</text>
<text x="425.5" y="669.08" font-size="7" text-anchor="end" font-weight="bold">0.4</text>
<text x="425.5" y="648.48" font-size="7" text-anchor="end" font-weight="bold">0.6</text>
<text x="425.5" y="627.88" font-size="7" text-anchor="end" font-weight="bold">0.8</text>
<text x="425.5" y="607.28" font-size="7" text-anchor="end" font-weight="bold">1.0</text>
<line x1="443.56" y1="721.2" x2="443.56" y2="722.7" stroke="#333" stroke-width="1"/>
<line x1="473.48" y1="721.2" x2="473.48" y2="722.7" stroke="#333" stroke-width="1"/>
<line x1="503.4" y1="721.2" x2="503.4" y2="722.7" stroke="#333" stroke-width="1"/>
<line x1="533.32" y1="721.2" x2="533.32" y2="722.7" stroke="#333" stroke-width="1"/>
<line x1="563.24" y1="721.2" x2="563.24" y2="722.7" stroke="#333" stroke-width="1"/>
<line x1="428.6" y1="721.2" x2="428.6" y2="723.7" stroke="#333" stroke-width="1"/>
<line x1="458.52" y1="721.2" x2="458.52" y2="723.7" stroke="#333" stroke-width="1"/>
<line x1="488.44" y1="721.2" x2="488.44" y2="723.7" stroke="#333" stroke-width="1"/>
<line x1="518.36" y1="721.2" x2="518.36" y2="723.7" stroke="#333" stroke-width="1"/>
<line x1="548.28" y1="721.2" x2="548.28" y2="723.7" stroke="#333" stroke-width="1"/>
<line x1="578.2" y1="721.2" x2="578.2" y2="723.7" stroke="#333" stroke-width="1"/>
<text x="428.6" y="731.4" font-size="7" text-anchor="middle" font-weight="bold">0</text>
<text x="458.52" y="731.4" font-size="7" text-anchor="middle" font-weight="bold">10</text>
<text x="488.44" y="731.4" font-size="7" text-anchor="middle" font-weight="bold">20</text>
<text x="518.36" y="731.4" font-size="7" text-anchor="middle" font-weight="bold">30</text>
<text x="548.28" y="731.4" font-size="7" text-anchor="middle" font-weight="bold">40</text>
<text x="578.2" y="731.4" font-size="7" text-anchor="middle" font-weight="bold">50</text>
<text x="409" y="658.7" font-size="6.8" text-anchor="middle" font-weight="bold" transform="rotate(-90 409 658.7)" dy="2">Potential (V)</text>
<text x="502.6" y="742.2" font-size="7.3" text-anchor="middle" font-weight="bold">Cycle number</text>
<rect x="397.1" y="541" width="274.5" height="209.4" fill="none" stroke="#000" stroke-width="2"/>
<line x1="397.1" y1="733.35" x2="394.6" y2="733.35" stroke="#000" stroke-width="1.6"/>
<line x1="397.1" y1="699.25" x2="394.6" y2="699.25" stroke="#000" stroke-width="1.6"/>
<line x1="397.1" y1="665.15" x2="394.6" y2="665.15" stroke="#000" stroke-width="1.6"/>
<line x1="397.1" y1="631.05" x2="394.6" y2="631.05" stroke="#000" stroke-width="1.6"/>
<line x1="397.1" y1="596.95" x2="394.6" y2="596.95" stroke="#000" stroke-width="1.6"/>
<line x1="397.1" y1="562.85" x2="394.6" y2="562.85" stroke="#000" stroke-width="1.6"/>
<line x1="397.1" y1="750.4" x2="392.6" y2="750.4" stroke="#000" stroke-width="1.6"/>
<line x1="397.1" y1="716.3" x2="392.6" y2="716.3" stroke="#000" stroke-width="1.6"/>
<line x1="397.1" y1="682.2" x2="392.6" y2="682.2" stroke="#000" stroke-width="1.6"/>
<line x1="397.1" y1="648.1" x2="392.6" y2="648.1" stroke="#000" stroke-width="1.6"/>
<line x1="397.1" y1="614" x2="392.6" y2="614" stroke="#000" stroke-width="1.6"/>
<line x1="397.1" y1="579.9" x2="392.6" y2="579.9" stroke="#000" stroke-width="1.6"/>
<line x1="397.1" y1="545.8" x2="392.6" y2="545.8" stroke="#000" stroke-width="1.6"/>
<text x="391" y="754.07" font-size="10.8" text-anchor="end" font-weight="bold">0</text>
<text x="391" y="719.97" font-size="10.8" text-anchor="end" font-weight="bold">20</text>
<text x="391" y="685.87" font-size="10.8" text-anchor="end" font-weight="bold">40</text>
<text x="391" y="651.77" font-size="10.8" text-anchor="end" font-weight="bold">60</text>
<text x="391" y="617.67" font-size="10.8" text-anchor="end" font-weight="bold">80</text>
<text x="391" y="583.57" font-size="10.8" text-anchor="end" font-weight="bold">100</text>
<text x="391" y="549.47" font-size="10.8" text-anchor="end" font-weight="bold">120</text>
<line x1="424.6" y1="750.4" x2="424.6" y2="752.9" stroke="#000" stroke-width="1.6"/>
<line x1="479.6" y1="750.4" x2="479.6" y2="752.9" stroke="#000" stroke-width="1.6"/>
<line x1="534.6" y1="750.4" x2="534.6" y2="752.9" stroke="#000" stroke-width="1.6"/>
<line x1="589.6" y1="750.4" x2="589.6" y2="752.9" stroke="#000" stroke-width="1.6"/>
<line x1="644.6" y1="750.4" x2="644.6" y2="752.9" stroke="#000" stroke-width="1.6"/>
<line x1="397.1" y1="750.4" x2="397.1" y2="754.9" stroke="#000" stroke-width="1.6"/>
<line x1="452.1" y1="750.4" x2="452.1" y2="754.9" stroke="#000" stroke-width="1.6"/>
<line x1="507.1" y1="750.4" x2="507.1" y2="754.9" stroke="#000" stroke-width="1.6"/>
<line x1="562.1" y1="750.4" x2="562.1" y2="754.9" stroke="#000" stroke-width="1.6"/>
<line x1="617.1" y1="750.4" x2="617.1" y2="754.9" stroke="#000" stroke-width="1.6"/>
<line x1="672.1" y1="750.4" x2="672.1" y2="754.9" stroke="#000" stroke-width="1.6"/>
<text x="397.1" y="766" font-size="10.5" text-anchor="middle" font-weight="bold">0</text>
<text x="452.1" y="766" font-size="10.5" text-anchor="middle" font-weight="bold">500</text>
<text x="507.1" y="766" font-size="10.5" text-anchor="middle" font-weight="bold">1000</text>
<text x="562.1" y="766" font-size="10.5" text-anchor="middle" font-weight="bold">1500</text>
<text x="617.1" y="766" font-size="10.5" text-anchor="middle" font-weight="bold">2000</text>
<text x="672.1" y="766" font-size="10.5" text-anchor="middle" font-weight="bold">2500</text>
<text x="363.6" y="638.2" font-size="11.9" text-anchor="middle" font-weight="bold" transform="rotate(-90 363.6 638.2)" dy="4.5">Capacitance retention (%)</text>
<text x="535.4" y="783.9" font-size="12.3" text-anchor="middle" font-weight="bold">Cycle number</text>
<text x="413.5" y="558" font-size="11" text-anchor="middle" font-weight="bold">(f)</text>
</svg>
</body></html>
